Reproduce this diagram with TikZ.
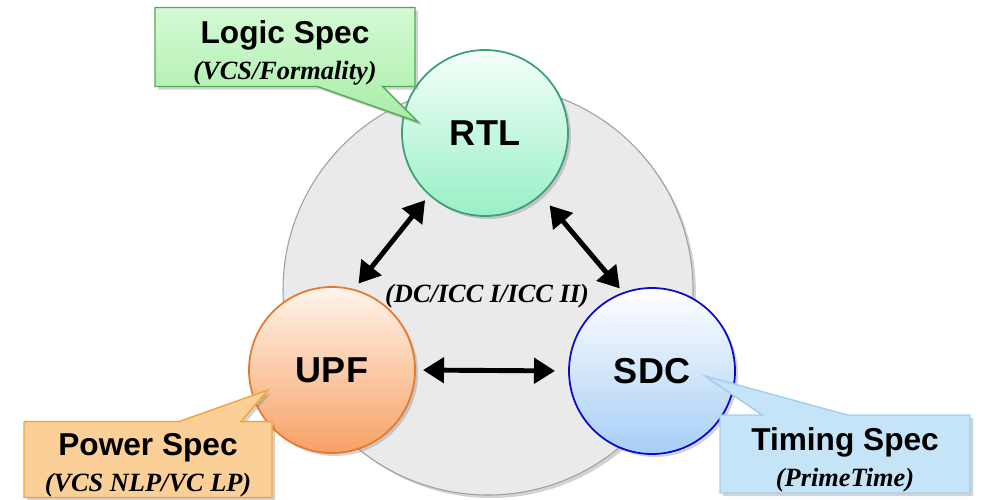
\documentclass[tikz,border=0pt]{standalone}
\usepackage{fontspec}
\setmainfont{Liberation Serif}
\setsansfont{Liberation Sans}
\usetikzlibrary{shapes,shapes.callouts,arrows.meta,calc,shadows}

\definecolor{coreFill}{HTML}{EAEAEA}
\definecolor{coreLine}{HTML}{A0A0A0}
\definecolor{rtlTop}{HTML}{F4FFFA}
\definecolor{rtlBot}{HTML}{98F0C6}
\definecolor{rtlLine}{HTML}{3E9E78}
\definecolor{upfTop}{HTML}{FFF4EC}
\definecolor{upfBot}{HTML}{F7A265}
\definecolor{upfLine}{HTML}{E8782A}
\definecolor{sdcTop}{HTML}{FFFFFF}
\definecolor{sdcBot}{HTML}{A6CEF6}
\definecolor{sdcLine}{HTML}{0A0ACC}
\definecolor{logicTop}{HTML}{D4FAD4}
\definecolor{logicBot}{HTML}{A8EDA8}
\definecolor{logicLine}{HTML}{55A855}
\definecolor{powerFill}{HTML}{FBCF98}
\definecolor{powerLine}{HTML}{EFA537}
\definecolor{timingFill}{HTML}{C6E4F7}
\definecolor{timingLine}{HTML}{A3CFEE}

\newcommand{\spectitle}[1]{\rule{0pt}{19.5pt}{\sffamily\bfseries\fontsize{18}{20}\selectfont #1}}

\begin{document}
\begin{tikzpicture}[
    outer sep=0pt,
    shade/.style={drop shadow={opacity=0.35, shadow xshift=0.6mm, shadow yshift=-0.6mm}},
    block/.style={circle, draw, line width=1pt, minimum size=3.32cm, shade, font=\sffamily\bfseries\fontsize{20.5}{24}\selectfont},
    spec/.style={rectangle callout, draw, line width=0.8pt, align=center, inner sep=0pt, shade, font=\fontsize{15}{20.5}\selectfont},
    tool/.style={font=\bfseries\itshape\fontsize{15}{18}\selectfont},
    link/.style={<->, >={Triangle[length=4.2mm,width=5mm]}, line width=2.8pt}
]
    \useasboundingbox (0,0) rectangle (19.64,9.98);

    % flow ring
    \node [circle, draw=coreLine, fill=coreFill, line width=0.6pt, minimum size=8.2cm, shade] (core) at (9.76,4.18) {};
    \node [tool] (flow) at (9.74,4.06) {(DC/ICC I/ICC II)};

    % the three inputs
    \node [block, draw=rtlLine, top color=rtlTop, bottom color=rtlBot] (rtl) at (9.70,7.32) {RTL};
    \node [block, draw=upfLine, top color=upfTop, bottom color=upfBot] (upf) at (6.64,2.58) {UPF};
    \node [block, draw=sdcLine, top color=sdcTop, bottom color=sdcBot] (sdc) at (13.04,2.56) {SDC};

    \draw [link, shorten <=0.14cm, shorten >=0.16cm] (rtl.228) -- (upf.75);
    \draw [link, shorten <=0.28cm, shorten >=0.12cm] (rtl.312) -- (sdc.110);
    \draw [link, shorten <=0.16cm, shorten >=0.28cm] (upf.0) -- (sdc.180);

    % callouts
    \coordinate (logictip) at ($(rtl)+(-1.34,0.22)$);
    \coordinate (powertip) at ($(upf)+(-1.28,-0.40)$);
    \coordinate (timingtip) at ($(sdc)+(1.06,-0.10)$);

    \node [spec, draw=logicLine, top color=logicTop, bottom color=logicBot, minimum width=5.2cm, minimum height=1.58cm,
           callout absolute pointer=(logictip), callout pointer width=1.3cm] (logic) at (5.70,9.04)
          {\spectitle{Logic Spec}\\{\bfseries\itshape (VCS/Formality)}};
    \node [spec, draw=powerLine, fill=powerFill, minimum width=4.96cm, minimum height=1.42cm,
           callout absolute pointer=(powertip), callout pointer width=1.24cm] (power) at (2.96,0.79)
          {\spectitle{Power Spec}\\{\bfseries\itshape (VCS NLP/VC LP)}};
    \node [spec, draw=timingLine, fill=timingFill, minimum width=5.0cm, minimum height=1.56cm,
           callout absolute pointer=(timingtip), callout pointer width=1.7cm] (timing) at (16.90,0.90)
          {\spectitle{Timing Spec}\\{\bfseries\itshape (PrimeTime)}};
\end{tikzpicture}
\end{document}
